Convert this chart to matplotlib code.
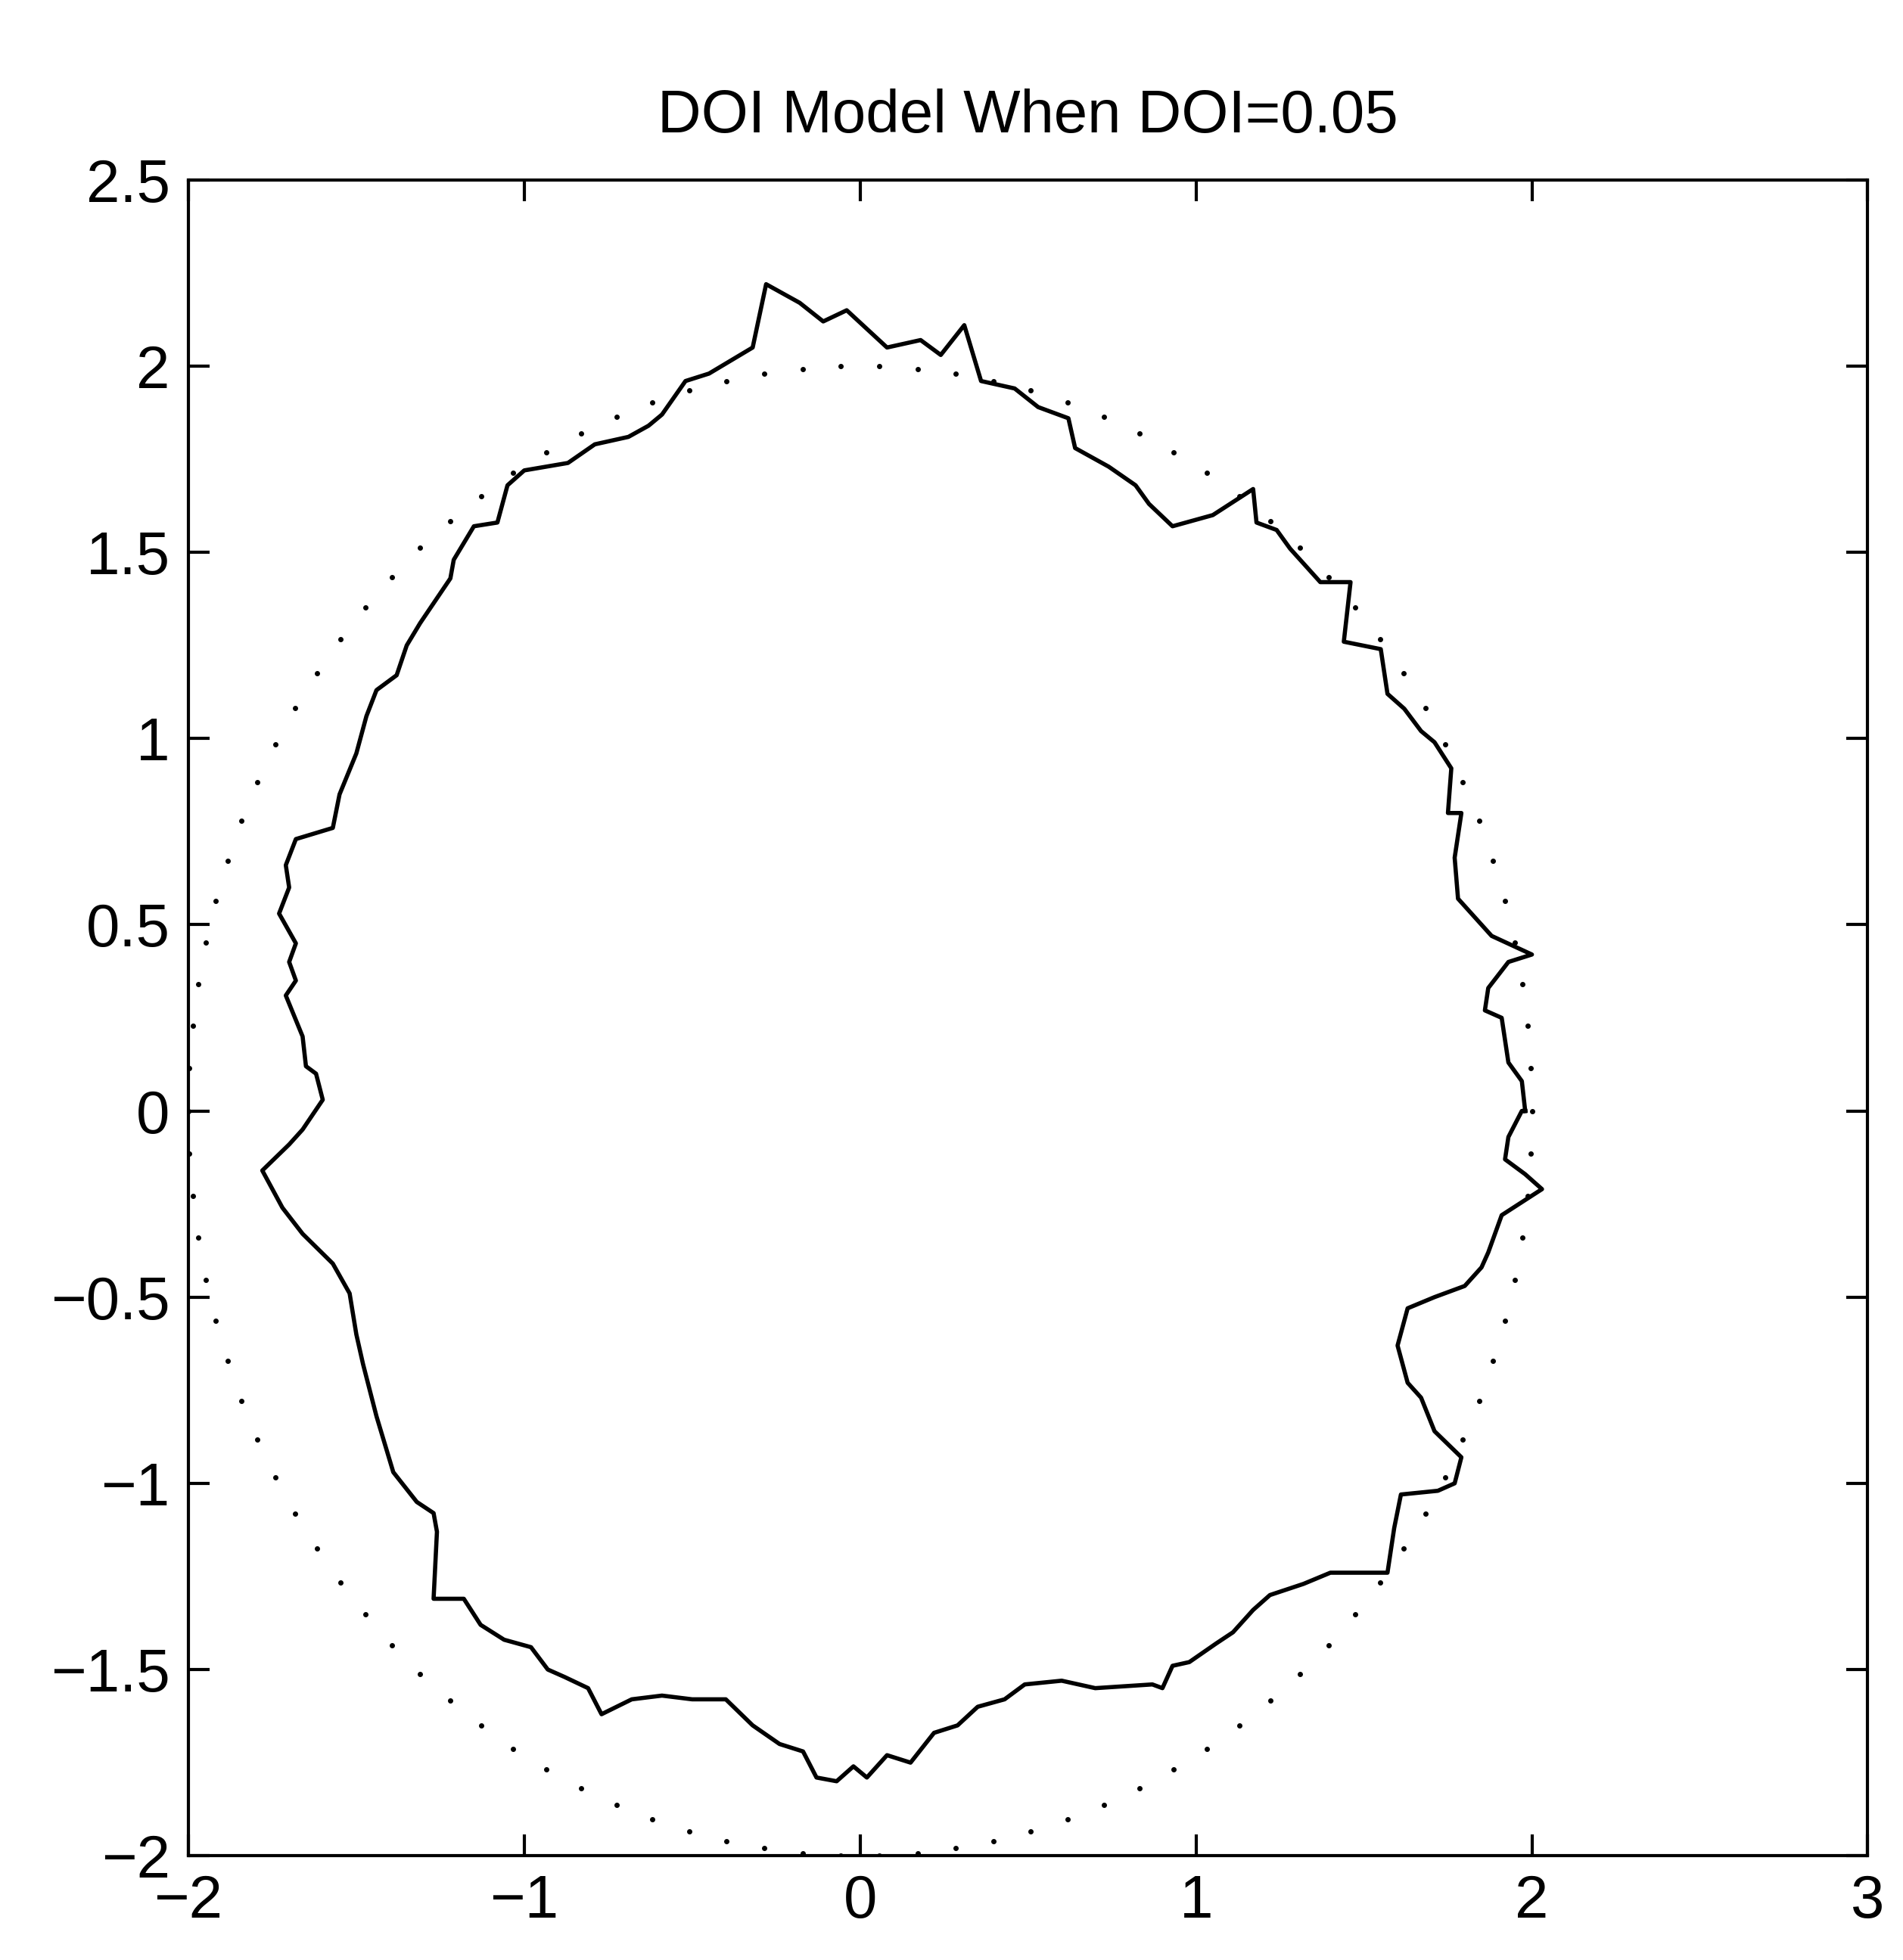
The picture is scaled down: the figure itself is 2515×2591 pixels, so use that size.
import numpy as np
import matplotlib
matplotlib.use("Agg")
import matplotlib.pyplot as plt

plt.rcParams['font.family'] = ['Liberation Sans', 'DejaVu Sans']

curve_x = [1.98,1.97,1.93,1.91,1.86,1.87,1.93,2.0,1.88,1.82,1.78,1.77,1.79,1.75,1.76,1.71,1.67,1.62,1.57,1.55,1.44,1.46,1.37,1.28,1.24,1.18,1.17,1.05,0.93,0.86,0.82,0.74,0.64,0.62,0.53,0.46,0.36,0.31,0.24,0.18,0.08,-0.04,-0.11,-0.18,-0.28,-0.32,-0.45,-0.52,-0.59,-0.63,-0.69,-0.79,-0.87,-1.0,-1.05,-1.08,-1.15,-1.21,-1.22,-1.28,-1.31,-1.35,-1.38,-1.44,-1.47,-1.50,-1.55,-1.57,-1.68,-1.71,-1.70,-1.73,-1.68,-1.70,-1.68,-1.71,-1.66,-1.65,-1.62,-1.60,-1.66,-1.70,-1.78,-1.72,-1.66,-1.57,-1.52,-1.50,-1.48,-1.44,-1.39,-1.32,-1.27,-1.26,-1.27,-1.18,-1.13,-1.06,-0.98,-0.93,-0.88,-0.81,-0.77,-0.68,-0.59,-0.50,-0.40,-0.32,-0.24,-0.17,-0.13,-0.07,-0.02,0.02,0.08,0.15,0.22,0.29,0.35,0.43,0.49,0.60,0.70,0.87,0.90,0.93,0.98,1.06,1.11,1.17,1.22,1.32,1.40,1.57,1.59,1.61,1.72,1.77,1.79,1.71,1.67,1.63,1.60,1.63,1.71,1.80,1.85,1.87,1.91,2.03,1.98,1.92,1.93,1.97,1.98]
curve_y = [0.0,0.08,0.13,0.25,0.27,0.33,0.40,0.42,0.47,0.53,0.57,0.68,0.80,0.80,0.92,0.99,1.02,1.08,1.12,1.24,1.26,1.42,1.42,1.51,1.56,1.58,1.67,1.60,1.57,1.63,1.68,1.73,1.78,1.86,1.89,1.94,1.96,2.11,2.03,2.07,2.05,2.15,2.12,2.17,2.22,2.05,1.98,1.96,1.87,1.84,1.81,1.79,1.74,1.72,1.68,1.58,1.57,1.48,1.43,1.35,1.31,1.25,1.17,1.13,1.06,0.96,0.85,0.76,0.73,0.66,0.60,0.53,0.45,0.40,0.35,0.31,0.20,0.12,0.10,0.03,-0.05,-0.09,-0.16,-0.26,-0.33,-0.41,-0.49,-0.60,-0.68,-0.82,-0.97,-1.05,-1.08,-1.13,-1.31,-1.31,-1.38,-1.42,-1.44,-1.50,-1.52,-1.55,-1.62,-1.58,-1.57,-1.58,-1.58,-1.65,-1.70,-1.72,-1.79,-1.80,-1.76,-1.79,-1.73,-1.75,-1.67,-1.65,-1.60,-1.58,-1.54,-1.53,-1.55,-1.54,-1.55,-1.49,-1.48,-1.43,-1.40,-1.34,-1.30,-1.27,-1.24,-1.24,-1.12,-1.03,-1.02,-1.00,-0.93,-0.86,-0.77,-0.73,-0.63,-0.53,-0.50,-0.47,-0.42,-0.38,-0.28,-0.21,-0.17,-0.13,-0.07,0.0,0.0]
circle_radius = 2.0
xticks = [-2, -1, 0, 1, 2, 3]
yticks = [-2, -1.5, -1, -0.5, 0, 0.5, 1, 1.5, 2, 2.5]
ytick_labels = ['\u22122', '\u22121.5', '\u22121', '\u22120.5', '0', '0.5', '1', '1.5', '2', '2.5']
xtick_labels = ['\u22122', '\u22121', '0', '1', '2', '3']

fig = plt.figure(figsize=(10.06, 10.364), dpi=250)
ax = fig.add_axes([0.099, 0.0532, 0.8825, 0.855])
t = np.linspace(0, 2*np.pi, 110, endpoint=False)
ax.plot(circle_radius*np.cos(t), circle_radius*np.sin(t), linestyle='none', marker='.', markersize=2.0, color='black')
ax.plot(curve_x, curve_y, color='black', linewidth=1.6)
ax.set_xlim(-2, 3)
ax.set_ylim(-2, 2.5)
ax.set_xticks(xticks)
ax.set_xticklabels(xtick_labels)
ax.set_yticks(yticks)
ax.set_yticklabels(ytick_labels)
ax.tick_params(direction='in', top=True, right=True, labelsize=23, length=8, width=1.2, pad=7)
for s in ax.spines.values():
    s.set_linewidth(1.2)
ax.set_title('DOI Model When DOI=0.05', fontsize=23, pad=18)
fig.savefig('out.png')
